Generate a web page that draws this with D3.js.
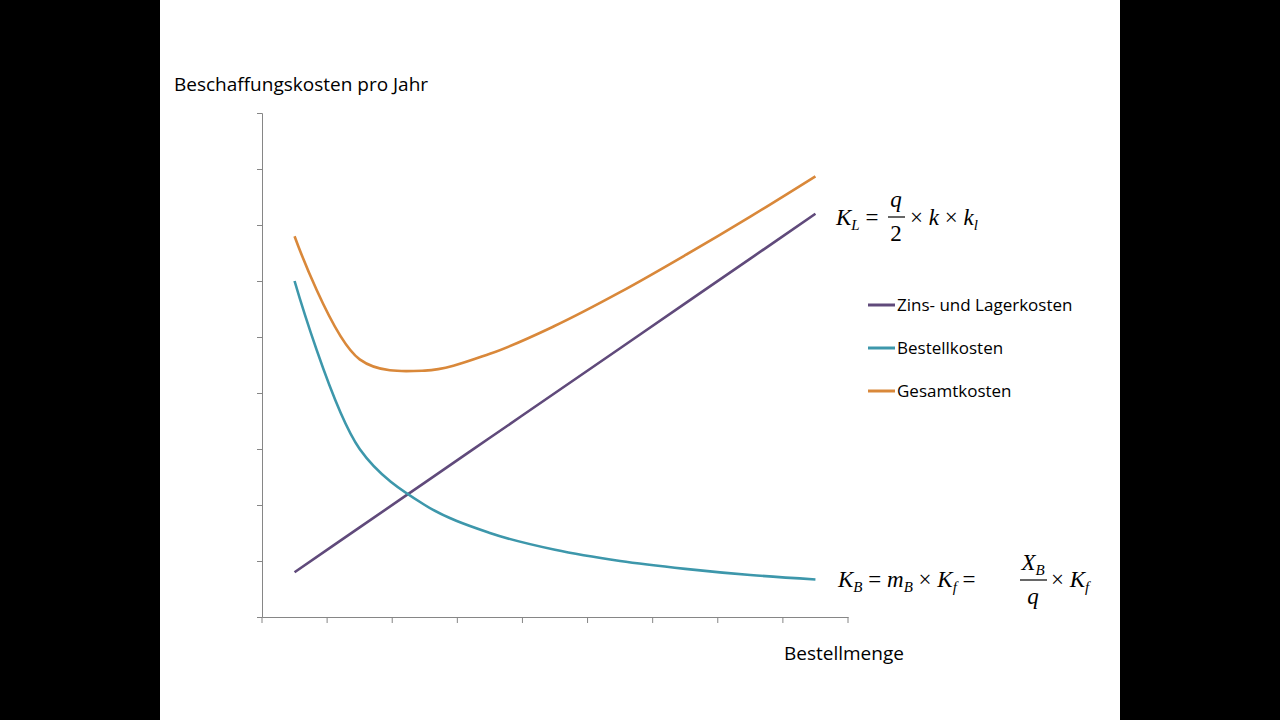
<!DOCTYPE html>
<html><head><meta charset="utf-8">
<script src="https://cdn.jsdelivr.net/npm/d3@7"></script>
<style>
body{margin:0;background:#000;}
text{font-family:"Open Sans","Noto Sans",sans-serif;}
.m{font-family:"Liberation Serif",serif;font-size:23px;}
</style></head>
<body><svg id="c" width="1280" height="720"></svg>
<script>
var categories = [1, 2, 3, 4, 5, 6, 7, 8, 9];
var lager = [0.8, 1.6, 2.4, 3.2, 4.0, 4.8, 5.6, 6.4, 7.2];
var bestell = [6.0, 3.0, 2.0, 1.5, 1.2, 1.0, 0.86, 0.75, 0.67];
var gesamt = [6.8, 4.6, 4.4, 4.7, 5.2, 5.8, 6.46, 7.15, 7.87];
var seriesNames = ["Zins- und Lagerkosten", "Bestellkosten", "Gesamtkosten"];
var colors = ["#604a7b", "#3d97ab", "#d9883a"];
var yTicks = d3.range(0, 10);

var svg = d3.select("#c");
svg.append("rect").attr("x", 160).attr("y", 0).attr("width", 960).attr("height", 720).attr("fill", "#fff");

var x = d3.scaleBand().domain(categories).range([262, 848]);
var y = d3.scaleLinear().domain([0, 9]).range([617, 113]);

// axes
svg.append("g").attr("transform", "translate(262,0)")
    .call(d3.axisLeft(y).tickValues(yTicks).tickSize(5).tickFormat(""))
    .call(function (g) { g.selectAll("line,path").attr("stroke", "#868686"); });
svg.append("g").attr("transform", "translate(0,617)")
    .call(d3.axisBottom(x).tickSize(0).tickFormat(""))
    .call(function (g) { g.select("path").attr("stroke", "#868686"); });
svg.append("g").selectAll("line")
    .data(d3.range(0, categories.length + 1))
    .enter().append("line")
    .attr("x1", function (i) { return 262 + i * x.step(); })
    .attr("x2", function (i) { return 262 + i * x.step(); })
    .attr("y1", 617).attr("y2", 623).attr("stroke", "#868686");

var line = d3.line()
    .x(function (d, i) { return x(categories[i]) + x.bandwidth() / 2; })
    .y(function (d) { return y(d); })
    .curve(d3.curveCatmullRom.alpha(0.5));

[lager, bestell, gesamt].forEach(function (s, i) {
    svg.append("path").datum(s).attr("d", line)
        .attr("fill", "none").attr("stroke", colors[i]).attr("stroke-width", 2.6);
});

// legend
seriesNames.forEach(function (n, i) {
    var ly = 305 + i * 43;
    svg.append("line").attr("x1", 868).attr("x2", 895).attr("y1", ly).attr("y2", ly)
        .attr("stroke", colors[i]).attr("stroke-width", 3);
    svg.append("text").attr("x", 897).attr("y", ly + 6).attr("font-size", 17).attr("fill", "#000").text(n);
});

svg.append("text").attr("x", 174).attr("y", 91).attr("font-size", 19).text("Beschaffungskosten pro Jahr");
svg.append("text").attr("x", 784).attr("y", 660).attr("font-size", 19).text("Bestellmenge");

// formula K_L
var f1 = svg.append("text").attr("class", "m").attr("x", 836).attr("y", 225);
f1.append("tspan").attr("font-style", "italic").text("K");
f1.append("tspan").attr("font-style", "italic").attr("font-size", 15).attr("dy", 5).text("L");
f1.append("tspan").attr("dy", -5).text(" = ");
svg.append("text").attr("class", "m").attr("x", 896).attr("y", 207).attr("font-style", "italic").attr("text-anchor", "middle").text("q");
svg.append("line").attr("x1", 888).attr("x2", 905).attr("y1", 217).attr("y2", 217).attr("stroke", "#000").attr("stroke-width", 1.2);
svg.append("text").attr("class", "m").attr("x", 896).attr("y", 241).attr("text-anchor", "middle").text("2");
var f1b = svg.append("text").attr("class", "m").attr("x", 910).attr("y", 225);
f1b.append("tspan").text("× ");
f1b.append("tspan").attr("font-style", "italic").text("k");
f1b.append("tspan").text(" × ");
f1b.append("tspan").attr("font-style", "italic").text("k");
f1b.append("tspan").attr("font-style", "italic").attr("font-size", 15).attr("dy", 5).text("l");

// formula K_B
var f2 = svg.append("text").attr("class", "m").attr("x", 838).attr("y", 587);
f2.append("tspan").attr("font-style", "italic").text("K");
f2.append("tspan").attr("font-style", "italic").attr("font-size", 15).attr("dy", 5).text("B");
f2.append("tspan").attr("dy", -5).text(" = ");
f2.append("tspan").attr("font-style", "italic").text("m");
f2.append("tspan").attr("font-style", "italic").attr("font-size", 15).attr("dy", 5).text("B");
f2.append("tspan").attr("dy", -5).text(" × ");
f2.append("tspan").attr("font-style", "italic").text("K");
f2.append("tspan").attr("font-style", "italic").attr("font-size", 15).attr("dy", 5).text("f");
f2.append("tspan").attr("dy", -5).text(" =");
var num = svg.append("text").attr("class", "m").attr("x", 1033).attr("y", 570).attr("text-anchor", "middle");
num.append("tspan").attr("font-style", "italic").text("X");
num.append("tspan").attr("font-style", "italic").attr("font-size", 15).attr("dy", 5).text("B");
svg.append("line").attr("x1", 1020).attr("x2", 1047).attr("y1", 580).attr("y2", 580).attr("stroke", "#000").attr("stroke-width", 1.2);
svg.append("text").attr("class", "m").attr("x", 1033).attr("y", 604).attr("font-style", "italic").attr("text-anchor", "middle").text("q");
var f2b = svg.append("text").attr("class", "m").attr("x", 1051).attr("y", 587);
f2b.append("tspan").text("× ");
f2b.append("tspan").attr("font-style", "italic").text("K");
f2b.append("tspan").attr("font-style", "italic").attr("font-size", 15).attr("dy", 5).text("f");
</script></body></html>
